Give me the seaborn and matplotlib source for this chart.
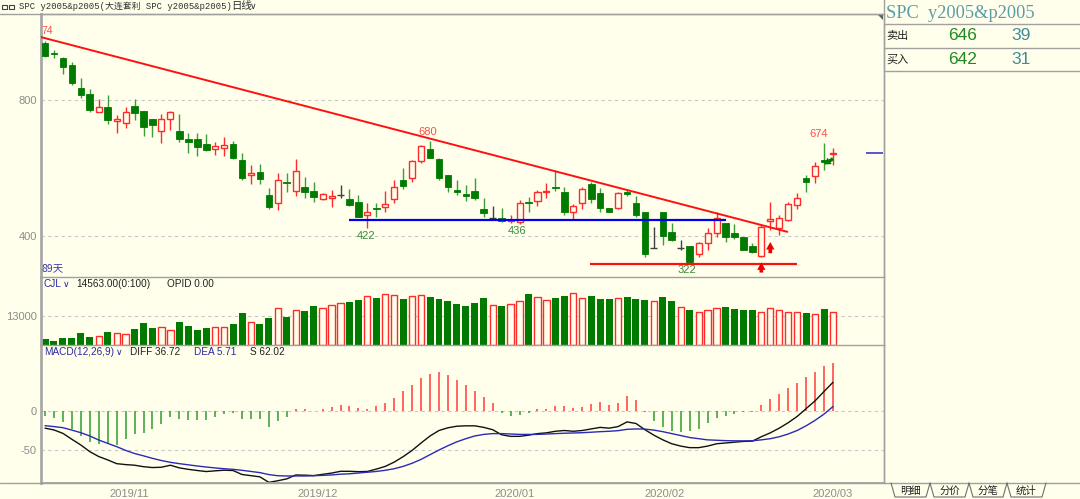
import numpy as np
import pandas as pd
import seaborn as sns
import matplotlib.pyplot as plt
from matplotlib.lines import Line2D
from matplotlib.patches import Rectangle, Polygon

# daily candles (89 sessions)
opens = [968, 938, 923, 903, 836, 817, 766, 778, 737, 731, 783, 769, 745, 708, 743, 710, 684, 684, 671, 655,
         658, 669, 624, 579, 589, 520, 496, 558, 532, 543, 532, 508, 511, 519, 508, 501, 462, 481, 486, 508,
         563, 570, 619, 655, 626, 579, 535, 523, 533, 479, 452, 452, 445, 442, 501, 503, 529, 545, 529, 469,
         498, 553, 526, 481, 481, 528, 498, 471, 364, 471, 410, 364, 369, 347, 380, 408, 439, 408, 396, 371,
         342, 445, 423, 447, 491, 570, 576, 624, 642]
highs = [974, 947, 926, 912, 864, 831, 802, 814, 755, 780, 803, 769, 745, 759, 768, 759, 702, 702, 700, 676,
         690, 680, 643, 609, 612, 540, 586, 584, 626, 574, 560, 526, 535, 550, 537, 521, 496, 498, 533, 563,
         599, 624, 668, 680, 629, 579, 565, 550, 570, 511, 488, 481, 460, 506, 513, 535, 555, 594, 543, 494,
         545, 558, 540, 481, 528, 537, 518, 471, 426, 471, 437, 388, 371, 383, 423, 469, 439, 435, 398, 380,
         435, 501, 462, 501, 527, 579, 616, 674, 658]
lows = [926, 923, 876, 844, 805, 766, 766, 729, 702, 718, 741, 694, 692, 673, 712, 677, 645, 635, 651, 639,
        636, 626, 563, 552, 553, 479, 476, 530, 518, 511, 501, 506, 486, 511, 488, 455, 422, 455, 471, 496,
        538, 560, 614, 629, 565, 530, 521, 504, 506, 457, 447, 442, 438, 436, 470, 489, 511, 532, 462, 449,
        478, 496, 471, 469, 478, 516, 457, 337, 364, 373, 386, 359, 322, 337, 357, 396, 383, 390, 357, 351,
        339, 418, 403, 445, 479, 529, 557, 594, 609]
closes = [930, 936, 896, 851, 815, 771, 780, 741, 745, 765, 761, 720, 726, 743, 765, 684, 676, 663, 653, 664,
          667, 629, 570, 586, 567, 484, 565, 555, 591, 530, 513, 523, 518, 519, 490, 455, 470, 479, 493, 543,
          548, 619, 665, 630, 570, 543, 529, 516, 511, 467, 452, 445, 448, 498, 498, 529, 532, 540, 469, 488,
          537, 508, 481, 469, 526, 523, 462, 347, 364, 400, 388, 364, 324, 380, 408, 452, 396, 396, 359, 354,
          426, 449, 452, 493, 511, 560, 606, 617, 645]
volumes = [2550, 1800, 3100, 3100, 5400, 3600, 3900, 5800, 5400, 4900, 7200, 9700, 7600, 8200, 6600, 10400,
           8600, 6600, 7600, 7900, 7900, 9400, 14200, 10200, 9400, 12200, 16400, 12700, 15500, 15200, 17500,
           16400, 18100, 18700, 19300, 20200, 22000, 21000, 23000, 22500, 20500, 22000, 22500, 21500, 20500,
           19500, 18500, 17500, 19000, 21000, 18000, 17500, 18500, 19500, 23000, 21500, 20000, 21000, 22000,
           23500, 21000, 22000, 20500, 20500, 21000, 21500, 20500, 20000, 19500, 21500, 19500, 17000, 15500,
           15000, 15500, 16500, 17000, 16000, 15500, 15500, 15000, 16500, 15500, 15000, 15000, 14500, 14000,
           16000, 14563]
macd_hist = [-6.4, -8.5, -14.5, -23.5, -31.6, -40.2, -42.3, -42.3, -43.6, -36.3, -29.9, -27.8, -23.5, -17.1,
             -7.3, -10.7, -11.5, -11.5, -11.5, -7.3, -3.8, -3.0, -10.7, -10.7, -10.7, -20.1, -12.8, -7.3,
             2.6, 2.1, 0.4, 2.6, 4.7, 7.3, 6.4, 3.4, 2, 6, 10, 17, 25, 33, 42, 48, 50, 46, 40, 33, 26, 18, 10,
             -3, -6, -5, -2, 2, 3, 6, 7, 4.4, 5.6, 8.4, 11, 8, 10.4, 19, 14,
             -1.6, -13, -21, -26, -27, -26, -23, -16, -9, -6, -3.6, -1.4, -1,
             8, 15, 22, 29, 36, 44, 50, 58, 62.02]
dea = [-18.8, -20.0, -21.4, -24.5, -27.8, -32, -37.2, -41.5, -45.7, -50.5, -54.5, -57.5, -60.7, -63.5, -65.8,
       -67.5, -69, -70.5, -71.8, -73, -74, -74.8, -76, -77.5, -79, -81.5, -83, -83.3, -83.3, -83.3, -83, -82.5,
       -82, -81, -80.5, -79.5, -78.5, -77.5, -76, -74, -71, -67, -62, -56, -50, -44.5, -39.5, -35.5, -32, -30,
       -29, -29, -29.5, -30, -30, -30, -29.5, -29, -28.5, -28.2, -27.8, -27.2, -26.5, -26, -25.2, -23.5, -23,
       -23.2, -24.5, -26.5, -29, -31.5, -34, -35.5, -37, -37.5, -38, -38.2, -38.3, -38.2,
       -37, -35.5, -33, -29.5, -25, -19, -12, -4, 5.71]
diff = [-22, -24.3, -28.7, -36.3, -43.6, -52.1, -58.4, -62.7, -67.5, -68.7, -69.5, -71.4, -72.5, -72.1, -69.5,
        -72.9, -74.8, -76.3, -77.6, -76.7, -75.9, -76.3, -81.4, -82.9, -84.4, -91.5, -89.4, -87, -82, -82.3,
        -82.8, -81.2, -79.6, -77.3, -77.3, -77.8, -77.5, -74.5, -71, -65.5, -58.5, -50.5, -41, -32, -25, -21.5,
        -19.5, -19, -19, -21, -24, -30.5, -32.5, -32.5, -31, -29, -28, -26, -25, -26, -25, -23, -21, -22, -20,
        -14, -16, -24, -31, -37, -42, -45, -47, -47, -45, -42, -41, -40, -39, -38.6,
        -33, -28, -22, -15, -7, 3, 13, 25, 36.72]
date_ticks = [9.4, 30.4, 52.4, 69.2, 88.0]
date_labels = ['2019/11', '2019/12', '2020/01', '2020/02', '2020/03']
# hand drawn lines on the price panel
trend_x = [-0.45, 82.9]
trend_y = [985, 412]
support_x = [33.9, 76.0]
support_y = 447
bottom_x = [60.9, 84.0]
bottom_y = 318

W, H = 1080, 499
BG = '#FFFFEC'
RED = '#FF2A2A'
GREEN = '#007A00'
LGREEN = '#3C9C3C'
GRAY = '#A0A0A0'
CJK = ['Noto Sans CJK SC', 'DejaVu Sans']

sns.set_theme(style='white')
plt.rcParams['font.family'] = ['Liberation Sans', 'Noto Sans CJK SC']

df = pd.DataFrame({'o': opens, 'h': highs, 'l': lows, 'c': closes, 'v': volumes})
df['i'] = np.arange(len(df))
rise = df.c > df.o
fall = df.c < df.o
flat = df.c == df.o

fig = plt.figure(figsize=(W / 100, H / 100), dpi=100, facecolor=BG)


def box(x0, y0, x1, y1):
    return [x0 / W, 1 - y1 / H, (x1 - x0) / W, (y1 - y0) / H]


def ftext(x, y, s, **kw):
    kw.setdefault('va', 'center')
    fig.text(x / W, 1 - y / H, s, **kw)


def fline(xs, ys, **kw):
    kw.setdefault('color', GRAY)
    kw.setdefault('lw', 1)
    fig.add_artist(Line2D([x / W for x in xs], [1 - y / H for y in ys], **kw))


ax_p = fig.add_axes(box(41, 14, 884, 277))
ax_v = fig.add_axes(box(41, 277, 884, 345), sharex=ax_p)
ax_m = fig.add_axes(box(41, 345, 884, 483), sharex=ax_p)

for ax in (ax_p, ax_v, ax_m):
    ax.set_facecolor(BG)
    ax.spines['left'].set_color('#A8A8A8')
    ax.spines['left'].set_linewidth(2)
    for s in ('top', 'right'):
        ax.spines[s].set_color(GRAY)
        ax.spines[s].set_linewidth(1)
    ax.spines['bottom'].set_visible(False)
    ax.tick_params(axis='y', length=0, labelsize=8, labelcolor='#8C8C8C', pad=3)
ax_m.spines['bottom'].set_visible(True)
ax_m.spines['bottom'].set_color(GRAY)

# ---- price panel ----
wick_cols = np.where(rise, RED, np.where(fall, LGREEN, '#404040'))
ax_p.vlines(df.i, df.l, df.h, colors=wick_cols, lw=1, zorder=2)
ax_p.bar(df.i[rise], (df.c - df.o)[rise], bottom=df.o[rise], width=0.68,
         facecolor=BG, edgecolor=RED, lw=1, zorder=3)
ax_p.bar(df.i[fall], (df.o - df.c)[fall], bottom=df.c[fall], width=0.74,
         facecolor=GREEN, edgecolor=GREEN, lw=0.6, zorder=3)
ax_p.hlines(df.c[flat], df.i[flat] - 0.4, df.i[flat] + 0.4, colors='#404040', lw=1, zorder=3)

for lv in (400, 800):
    ax_p.axhline(lv, color='#C8C8C8', ls=(0, (3, 3)), lw=0.8, zorder=1)
ax_p.plot(trend_x, trend_y, color='#FF1010', lw=1.4, zorder=4)
ax_p.hlines(support_y, *support_x, color='#0000EE', lw=1.6, zorder=4)
ax_p.hlines(bottom_y, *bottom_x, color='#FF1010', lw=1.6, zorder=4)
ax_p.hlines(closes[-1], 91.7, 93.6, color='#3A3ACC', lw=1.2, clip_on=False)

lab = dict(fontsize=8, ha='center', textcoords='offset points')
ax_p.annotate('680', xy=(43, highs[43]), xytext=(-2, 3), va='bottom', color='#FF4A4A', **lab)
ax_p.annotate('674', xy=(87, highs[87]), xytext=(-4, 3), va='bottom', color='#FF4A4A', **lab)
ax_p.annotate('422', xy=(36, lows[36]), xytext=(-1, -2), va='top', color='#3A8A3A', **lab)
ax_p.annotate('436', xy=(53, lows[53]), xytext=(-2, -2), va='top', color='#3A8A3A', **lab)
ax_p.annotate('322', xy=(72, lows[72]), xytext=(-2, -2), va='top', color='#3A8A3A', **lab)
ax_p.text(-0.45, trend_y[0] + 4, '74', color='#FF4A4A', fontsize=7.5, ha='left', va='bottom')

arrow = dict(arrowstyle='simple,head_width=0.5,head_length=0.45,tail_width=0.22',
             color='#EE0000', lw=0, shrinkA=0, shrinkB=0)
ax_p.annotate('', xy=(81, 382), xytext=(81, 349), arrowprops=arrow, zorder=5)
ax_p.annotate('', xy=(80, 322), xytext=(80, 292), arrowprops=arrow, zorder=5, annotation_clip=False)
ax_p.annotate('', xy=(87.0, 610), xytext=(88.0, 627),
              arrowprops=dict(arrowstyle='simple,head_width=0.45,head_length=0.4,tail_width=0.2',
                              color=GREEN, lw=0, shrinkA=0, shrinkB=0), zorder=5)

ax_p.set_ylim(279, 1053)
ax_p.set_yticks([400, 800])
ax_p.tick_params(axis='x', length=0, labelbottom=False)

# ---- volume panel ----
vup = df.c >= df.o
ax_v.bar(df.i[vup], df.v[vup], width=0.7, facecolor=BG, edgecolor=RED, lw=1)
ax_v.bar(df.i[~vup], df.v[~vup], width=0.78, color=GREEN, lw=0)
ax_v.axhline(13000, color='#C8C8C8', ls=(0, (3, 3)), lw=0.8, zorder=0)
ax_v.set_ylim(0, 30460)
ax_v.set_yticks([13000])
ax_v.tick_params(axis='x', length=0, labelbottom=False)

# ---- MACD panel ----
hist = np.array(macd_hist)
ax_m.vlines(df.i, 0, hist, colors=np.where(hist >= 0, '#FF3A3A', '#2E9E2E'), lw=1.1)
for lv in (0, -50):
    ax_m.axhline(lv, color='#C8C8C8', ls=(0, (3, 3)), lw=0.8, zorder=0)
lines = pd.DataFrame({'i': df.i, 'DIFF': diff, 'DEA': dea}).melt('i', var_name='line', value_name='val')
sns.lineplot(data=lines, x='i', y='val', hue='line', palette={'DIFF': '#111111', 'DEA': '#2A2AB8'},
             lw=1, legend=False, ax=ax_m)
ax_m.set_xlabel('')
ax_m.set_ylabel('')
ax_m.set_ylim(-92.3, 84.6)
ax_m.set_yticks([-50, 0])
ax_m.set_yticklabels(['-50', '0'])
ax_m.set_xticks(date_ticks)
ax_m.set_xticklabels(date_labels)
ax_m.tick_params(axis='x', direction='in', length=5, color=GRAY, labelsize=8, labelcolor='#8C8C8C', pad=4)
ax_m.set_xlim(-0.45, 93.7)

# ---- panel captions ----
cap = dict(fontsize=7.2)
ftext(42, 268, '89天', color='#3A3AB0', fontsize=7.5, family=CJK)
ftext(43, 284, 'CJL', color='#2A2AA0', **cap)
ftext(63, 284.5, '∨', color='#2A2AA0', fontsize=6.5, family=['DejaVu Sans'])
ftext(76, 284, '14563.00(0:100)', color='#202020', **cap)
ftext(167, 284, 'OPID 0.00', color='#202020', **cap)
ftext(44, 352, 'MACD(12,26,9)', color='#2A2AA0', **cap)
ftext(116, 352.5, '∨', color='#2A2AA0', fontsize=6.5, family=['DejaVu Sans'])
ftext(130, 352, 'DIFF 36.72', color='#202020', **cap)
ftext(194, 352, 'DEA 5.71', color='#2A2AA0', **cap)
ftext(250, 352, 'S 62.02', color='#202020', **cap)

# ---- title bar ----
fline([0, 884], [13.5, 13.5])
fig.add_artist(Rectangle((2 / W, 1 - 9 / H), 5 / W, 4 / H, fill=False, ec='#404040', lw=0.8))
fig.add_artist(Rectangle((9 / W, 1 - 9 / H), 5 / W, 4 / H, fill=False, ec='#404040', lw=0.8))
ftext(19, 6.5, 'SPC y2005&p2005(大连套利 SPC y2005&p2005)', color='#303030', fontsize=6.4,
      family=['Liberation Mono', 'Noto Sans CJK SC'])
ftext(231, 6.5, '日线', color='#303030', fontsize=7.5, family=CJK)
ftext(250, 6.5, '∨', color='#303030', fontsize=6.5, family=['DejaVu Sans'])

# ---- right quote panel ----
fline([883.5, 883.5], [0, 483])
fline([0, 1080], [483, 483])
for yy in (24, 47.7, 71):
    fline([884, 1080], [yy, yy])
fig.add_artist(Polygon([(877 / W, 1 - 14 / H), (883 / W, 1 - 14 / H), (883 / W, 1 - 20 / H)],
                       closed=True, color='#606060', lw=0))
ftext(886, 13, 'SPC  y2005&p2005', color='#5A9CAA', fontsize=13.2, family=['Liberation Serif'])
ftext(886, 36, '卖出', color='#202020', fontsize=8, family=CJK)
ftext(886, 59.5, '买入', color='#202020', fontsize=8, family=CJK)
ftext(948, 36, '646', color='#1E8A1E', fontsize=12.5)
ftext(948, 59.5, '642', color='#1E8A1E', fontsize=12.5)
ftext(1011, 36, '39', color='#3C8C9C', fontsize=12.5)
ftext(1011, 59.5, '31', color='#3C8C9C', fontsize=12.5)

tabs = [(891, 930, '明细'), (930, 969, '分价'), (969, 1007, '分笔'), (1007, 1046, '统计')]
for x0, x1, name in tabs:
    fline([x0, x0 + 4, x1 - 4, x1], [483, 497, 497, 483], color='#707070', lw=0.8)
    ftext((x0 + x1) / 2, 491, name, color='#202020', fontsize=7.5, family=CJK, ha='center')

fig.savefig('out.png', dpi=100, facecolor=BG)
